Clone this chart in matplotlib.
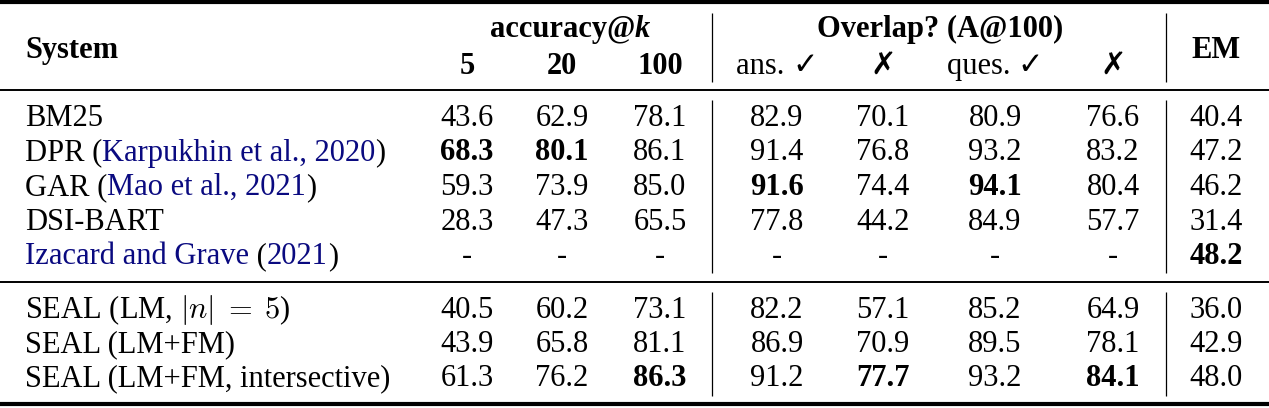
import matplotlib
matplotlib.use("Agg")
import matplotlib.pyplot as plt

# ---- data ----
system_parts = [
    [("BM25", "k")],
    [("DPR (", "k"), ("Karpukhin et al., 2020", "b"), (")", "k")],
    [("GAR (", "k"), ("Mao et al., 2021", "b"), (")", "k")],
    [("DSI-BART", "k")],
    [("Izacard and Grave", "b"), (" (", "k"), ("2021", "b"), (")", "k")],
    [(r"SEAL (LM, $|n|\;=\;5$)", "k")],
    [("SEAL (LM+FM)", "k")],
    [("SEAL (LM+FM, intersective)", "k")],
]
acc5 = [43.6, 68.3, 59.3, 28.3, None, 40.5, 43.9, 61.3]
acc20 = [62.9, 80.1, 73.9, 47.3, None, 60.2, 65.8, 76.2]
acc100 = [78.1, 86.1, 85.0, 65.5, None, 73.1, 81.1, 86.3]
ans_yes = [82.9, 91.4, 91.6, 77.8, None, 82.2, 86.9, 91.2]
ans_no = [70.1, 76.8, 74.4, 44.2, None, 57.1, 70.9, 77.7]
ques_yes = [80.9, 93.2, 94.1, 84.9, None, 85.2, 89.5, 93.2]
ques_no = [76.6, 83.2, 80.4, 57.7, None, 64.9, 78.1, 84.1]
em = [40.4, 47.2, 46.2, 31.4, 48.2, 36.0, 42.9, 48.0]
sub_headers = [("5", ""), ("20", ""), ("100", ""), ("ans. ", "\u2713"), ("", "\u2717"),
               ("ques. ", "\u2713"), ("", "\u2717")]

columns = [acc5, acc20, acc100, ans_yes, ans_no, ques_yes, ques_no, em]

# ---- layout ----
W, H = 1269, 408
SERIF = ['Liberation Serif', 'DejaVu Sans']
FS = 22
BLUE = '#0a0a80'
COLORS = {"k": "black", "b": BLUE}

fig = plt.figure(figsize=(W / 100, H / 100), dpi=100)
ax = fig.add_axes([0, 0, 1, 1])
ax.set_xlim(0, W)
ax.set_ylim(H, 0)
ax.axis('off')
renderer = fig.canvas.get_renderer()

col_x = [467, 562, 660, 777, 883, 995, 1113, 1216]
row_base = [126, 160.5, 195, 229.5, 264, 318, 352, 386]
left_x = 25


def txt(x, y, s, ha='left', **kw):
    kw.setdefault('family', SERIF)
    return ax.text(x, y, s, fontsize=FS, va='baseline', ha=ha, math_fontfamily='cm', **kw)


def width_of(s, **kw):
    t = txt(0, 0, s + "x", **kw)
    t2 = txt(0, 0, "x", **kw)
    w = t.get_window_extent(renderer).width - t2.get_window_extent(renderer).width
    t.remove(); t2.remove()
    return w


# rules
ax.hlines(2, 0, W, color='black', lw=3.0)
ax.hlines(90, 0, W, color='black', lw=1.4)
ax.hlines(281.5, 0, W, color='black', lw=1.4)
ax.hlines(403.5, 0, W, color='black', lw=3.0)
for vx in (712, 1166):
    ax.vlines(vx, 13, 82, color='black', lw=0.9)
    ax.vlines(vx, 100, 273, color='black', lw=0.9)
    ax.vlines(vx, 292, 396, color='black', lw=0.9)

# header
txt(left_x, 58, "System", weight='bold')
txt(col_x[7], 58, "EM", weight='bold', ha='center')
wa = width_of("accuracy@", weight='bold')
wk = width_of("k", weight='bold', style='italic')
x0 = 570 - (wa + wk) / 2
txt(x0, 37, "accuracy@", weight='bold')
txt(x0 + wa, 37, "k", weight='bold', style='italic')
txt(940, 37, "Overlap? (A@100)", weight='bold', ha='center')
for i, (h, sym) in enumerate(sub_headers):
    if i < 3:
        txt(col_x[i], 74, h, weight='bold', ha='center')
    else:
        wh = width_of(h) if h else 0
        ws = width_of(sym, family=['DejaVu Sans'], weight='bold')
        xs = col_x[i] - (wh + ws) / 2
        if h:
            txt(xs, 74, h)
        txt(xs + wh, 74, sym, family=['DejaVu Sans'], weight='bold')

# body
for r, parts in enumerate(system_parts):
    prefix = ""
    for s, c in parts:
        xoff = width_of(prefix) if prefix else 0
        txt(left_x + xoff, row_base[r], s, color=COLORS[c])
        prefix += s
for ci, col in enumerate(columns):
    vals = [v for v in col if v is not None]
    best = max(vals)
    for r, v in enumerate(col):
        if v is None:
            s, wt = "-", 'normal'
        else:
            s = f"{v:.1f}"
            wt = 'bold' if v == best else 'normal'
        txt(col_x[ci], row_base[r], s, weight=wt, ha='center')

fig.savefig("out.png", dpi=100)
